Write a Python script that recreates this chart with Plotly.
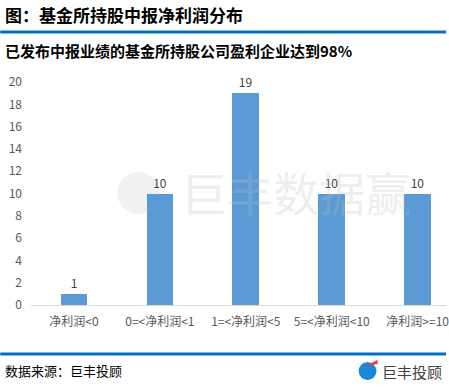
import plotly.graph_objects as go

categories = ["净利润<0", "0=<净利润<1", "1=<净利润<5", "5=<净利润<10", "净利润>=10"]
values = [1, 10, 19, 10, 10]
y_ticks = [0, 2, 4, 6, 8, 10, 12, 14, 16, 18, 20]

FONT = "Noto Sans CJK SC"
W, H = 449, 387

fig = go.Figure()
fig.add_trace(go.Bar(
    x=categories, y=values, width=0.31,
    marker=dict(color="#5B9BD5", line=dict(width=0)),
    text=[str(v) for v in values], textposition="outside",
    textfont=dict(family=FONT, size=12, color="#404040"),
    cliponaxis=False,
))

fig.update_layout(
    width=W, height=H,
    margin=dict(l=31, r=0, t=82, b=82),
    paper_bgcolor="white", plot_bgcolor="white",
    showlegend=False,
    bargap=0,
    xaxis=dict(range=[-0.5, 4.33], showgrid=False, showline=True,
               linecolor="#D9D9D9", linewidth=1, ticks="outside", ticklen=6,
               tickcolor="rgba(0,0,0,0)",
               tickfont=dict(family=FONT, size=12, color="#595959")),
    yaxis=dict(range=[0, 20], tickvals=y_ticks, showgrid=False, showline=False,
               zeroline=False, ticks="", ticklabelstandoff=8,
               tickfont=dict(family=FONT, size=12, color="#595959")),
    font=dict(family=FONT),
)

def py(ypix):
    return (H - 82 - ypix) / (H - 164)

def px(xpix):
    return (xpix - 31) / (W - 31)

# header / footer lines
for yy in [32, 354]:
    fig.add_shape(type="line", xref="paper", yref="paper",
                  x0=px(0), x1=px(449), y0=py(yy), y1=py(yy),
                  line=dict(color="#0070C0", width=3))

fig.add_annotation(text="<b>图：基金所持股中报净利润分布</b>", xref="paper", yref="paper",
                   x=px(3), y=py(14), xanchor="left", yanchor="middle", showarrow=False,
                   font=dict(family=FONT, size=17, color="#000000"))
fig.add_annotation(text="<b>已发布中报业绩的基金所持股公司盈利企业达到98%</b>", xref="paper", yref="paper",
                   x=px(3), y=py(50), xanchor="left", yanchor="middle", showarrow=False,
                   font=dict(family=FONT, size=15, color="#000000"))
fig.add_annotation(text="数据来源：巨丰投顾", xref="paper", yref="paper",
                   x=px(3), y=py(370), xanchor="left", yanchor="middle", showarrow=False,
                   font=dict(family=FONT, size=13, color="#000000"))
fig.add_annotation(text="巨丰投顾", xref="paper", yref="paper",
                   x=px(447), y=py(371), xanchor="right", yanchor="middle", showarrow=False,
                   font=dict(family=FONT, size=15, color="#404040"))
# footer logo icon
fig.add_shape(type="circle", xref="paper", yref="paper",
              x0=px(361), x1=px(379), y0=py(380), y1=py(362),
              fillcolor="#1E88D8", line=dict(width=0))
fig.add_shape(type="path", xref="paper", yref="paper",
              path=f"M {px(368)},{py(366)} L {px(380)},{py(360)} L {px(380)},{py(364)} Z",
              fillcolor="#E53935", line=dict(width=0))

# watermark
fig.add_shape(type="circle", xref="paper", yref="paper",
              x0=px(118), x1=px(160), y0=py(214), y1=py(172),
              fillcolor="rgba(200,200,200,0.25)", line=dict(width=0), layer="below")
fig.add_annotation(text="巨丰数据赢", xref="paper", yref="paper",
                   x=px(298), y=py(191), xanchor="center", yanchor="middle", showarrow=False,
                   font=dict(family=FONT, size=46, color="rgba(190,190,190,0.25)"))

fig.write_html("out.html", config={"displayModeBar": False},
               post_script="document.body.style.margin='0';document.body.style.overflow='hidden';")
